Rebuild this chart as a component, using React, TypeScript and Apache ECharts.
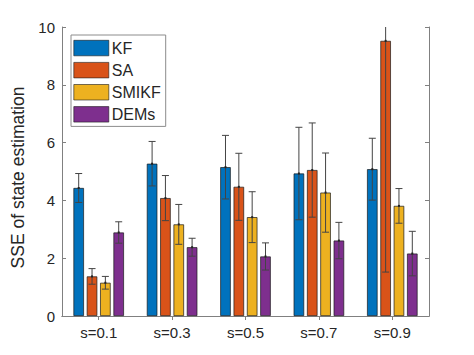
import React, { useEffect, useRef } from "react";
import * as echarts from "echarts";

const categories = ["s=0.1", "s=0.3", "s=0.5", "s=0.7", "s=0.9"];
const seriesNames = ["KF", "SA", "SMIKF", "DEMs"];
const kf = [4.43, 5.27, 5.15, 4.93, 5.08];
const kfErr = [0.5, 0.77, 1.1, 1.6, 1.07];
const sa = [1.37, 4.08, 4.47, 5.05, 9.52];
const saErr = [0.27, 0.78, 1.16, 1.63, 8.0];
const smikf = [1.15, 3.17, 3.42, 4.27, 3.81];
const smikfErr = [0.22, 0.69, 0.88, 1.37, 0.6];
const dems = [2.89, 2.38, 2.06, 2.61, 2.16];
const demsErr = [0.37, 0.31, 0.47, 0.63, 0.77];
const yTicks = [0, 2, 4, 6, 8, 10];

const colors = ["#0072BD", "#D95319", "#EDB120", "#7E2F8E"];
const means = [kf, sa, smikf, dems];
const errs = [kfErr, saErr, smikfErr, demsErr];

const BAR_W = 10.5;
const GAP_PCT = 27;
const PITCH = BAR_W * (1 + GAP_PCT / 100);
const FONT = "'Liberation Sans', Arial, Helvetica, sans-serif";
const AXIS_COLOR = "#808080";
const TEXT_COLOR = "#262626";

export default function App() {
  const ref = useRef<HTMLDivElement>(null);
  useEffect(() => {
    if (!ref.current) return;
    const chart = echarts.init(ref.current, undefined, { renderer: "svg" });

    const barSeries = seriesNames.map((name, i) => ({
      name,
      type: "bar",
      data: means[i],
      barWidth: BAR_W,
      barGap: GAP_PCT + "%",
      itemStyle: { color: colors[i], borderColor: "#1a1a1a", borderWidth: 0.7 },
      z: 2,
    }));

    const errSeries = seriesNames.map((name, i) => ({
      name: name + "-err",
      type: "custom",
      clip: true,
      z: 5,
      silent: true,
      data: means[i].map((m, k) => [k, m, errs[i][k]]),
      encode: { x: 0, y: 1 },
      renderItem: (params: any, api: any) => {
        const cat = api.value(0);
        const m = api.value(1);
        const e = api.value(2);
        const c = api.coord([cat, m]);
        const x = c[0] + (i - 1.5) * PITCH;
        const yt = api.coord([cat, m + e])[1];
        const yb = api.coord([cat, m - e])[1];
        const cap = 3.5;
        const st = { stroke: "#444444", lineWidth: 1 };
        return {
          type: "group",
          children: [
            { type: "line", shape: { x1: x, y1: yt, x2: x, y2: yb }, style: st },
            { type: "line", shape: { x1: x - cap, y1: yt, x2: x + cap, y2: yt }, style: st },
            { type: "line", shape: { x1: x - cap, y1: yb, x2: x + cap, y2: yb }, style: st },
            { type: "rect", shape: { x: x - 1, y: c[1] - 1, width: 2, height: 2 }, style: { fill: "#222" } },
          ],
        };
      },
    }));

    chart.setOption({
      animation: false,
      textStyle: { fontFamily: FONT },
      grid: { left: 62, right: 45, top: 27, bottom: 39, containLabel: false },
      legend: {
        data: seriesNames,
        orient: "vertical",
        left: 71,
        top: 35,
        icon: "rect",
        padding: [5, 5, 4, 2.5],
        itemWidth: 35,
        itemHeight: 15.5,
        itemGap: 6,
        itemStyle: { borderWidth: 0.6 },
        backgroundColor: "#ffffff",
        borderColor: "#8c8c8c",
        borderWidth: 1,
        borderRadius: 0,
        textStyle: { fontSize: 16, color: TEXT_COLOR, fontFamily: FONT, lineHeight: 16, padding: [0, 0, 0, -2] },
      },
      xAxis: [
        {
          type: "category",
          data: categories,
          position: "bottom",
          axisLine: { show: true, lineStyle: { color: AXIS_COLOR, width: 1 } },
          axisTick: { show: false },
          axisLabel: { fontSize: 15, color: TEXT_COLOR, margin: 9, fontFamily: FONT },
          splitLine: { show: false },
        },
        {
          type: "category",
          data: categories,
          position: "top",
          axisLine: { show: true, lineStyle: { color: AXIS_COLOR, width: 1 } },
          axisTick: { show: true, inside: true, length: 4, alignWithLabel: true, lineStyle: { color: AXIS_COLOR } },
          axisLabel: { show: false },
          splitLine: { show: false },
        },
      ],
      yAxis: [
        {
          type: "value",
          min: yTicks[0],
          max: yTicks[yTicks.length - 1],
          interval: 2,
          position: "left",
          name: "SSE of state estimation",
          nameLocation: "middle",
          nameGap: 32,
          nameTextStyle: { fontSize: 17.5, color: TEXT_COLOR, fontFamily: FONT, padding: [0, 12, 0, 0] },
          axisLine: { show: true, lineStyle: { color: AXIS_COLOR, width: 1 } },
          axisTick: { show: true, inside: true, length: 4, lineStyle: { color: AXIS_COLOR } },
          axisLabel: { fontSize: 15, color: TEXT_COLOR, margin: 7, fontFamily: FONT },
          splitLine: { show: false },
        },
        {
          type: "value",
          min: yTicks[0],
          max: yTicks[yTicks.length - 1],
          interval: 2,
          position: "right",
          axisLine: { show: true, lineStyle: { color: AXIS_COLOR, width: 1 } },
          axisTick: { show: true, inside: true, length: 4, lineStyle: { color: AXIS_COLOR } },
          axisLabel: { show: false },
          splitLine: { show: false },
        },
      ],
      series: [...barSeries, ...errSeries],
    });
    return () => chart.dispose();
  }, []);
  return (
    <div
      ref={ref}
      style={{ position: "fixed", left: 0, top: 0, width: 474, height: 355, background: "#fff" }}
    />
  );
}
